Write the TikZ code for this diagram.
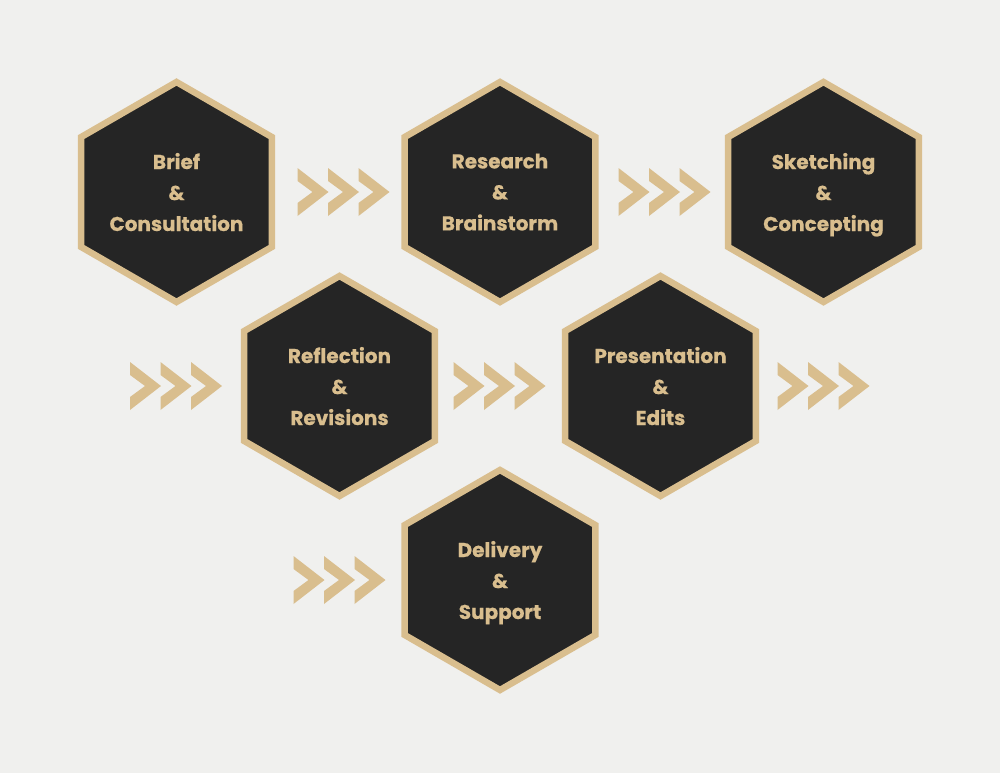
\documentclass[tikz,border=0pt]{standalone}
\usepackage{fontspec}
\setmainfont{Poppins}[BoldFeatures={FakeBold=0.6}]
\usetikzlibrary{shapes.geometric}
\definecolor{paper}{HTML}{F0F0EE}
\definecolor{gold}{HTML}{D9BE8E}
\definecolor{coal}{HTML}{252525}
\begin{document}
\begin{tikzpicture}[x=1pt, y=-1pt,
        hexa/.style={regular polygon, regular polygon sides=6, shape border rotate=30,
            minimum size=220pt, inner sep=0pt, fill=coal, draw=gold, line width=6.5pt,
            text=gold, align=center, font=\fontsize{20}{31}\selectfont\bfseries,
            text depth=0pt},
        chevrons/.pic={
            \foreach \i in {0,1,2}
                \fill[gold] (30.5*\i,-24) -- ++(31,24) -- ++(-31,24) -- ++(0,-13)
                    -- ++(15,-11) -- ++(-15,-11) -- cycle;
        },
        ]
        \useasboundingbox[fill=paper] (0,0) rectangle (1000,773);

        \node (brief) at (176.5,192) [hexa] {Brief\\\&\\Consultation};
        \node (research) at (500,192) [hexa] {Research\\\&\\Brainstorm};
        \node (sketch) at (823.5,192) [hexa] {Sketching\\\&\\Concepting};
        \node (reflect) at (339.5,386) [hexa] {Reflection\\\&\\Revisions};
        \node (present) at (660.5,386) [hexa] {Presentation\\\&\\Edits};
        \node (deliver) at (500,580) [hexa] {Delivery\\\&\\Support};

        \pic at (297.5,192) {chevrons};
        \pic at (618.5,192) {chevrons};
        \pic at (130,386) {chevrons};
        \pic at (453.5,386) {chevrons};
        \pic at (777.5,386) {chevrons};
        \pic at (293.5,580) {chevrons};

    \end{tikzpicture}
\end{document}
